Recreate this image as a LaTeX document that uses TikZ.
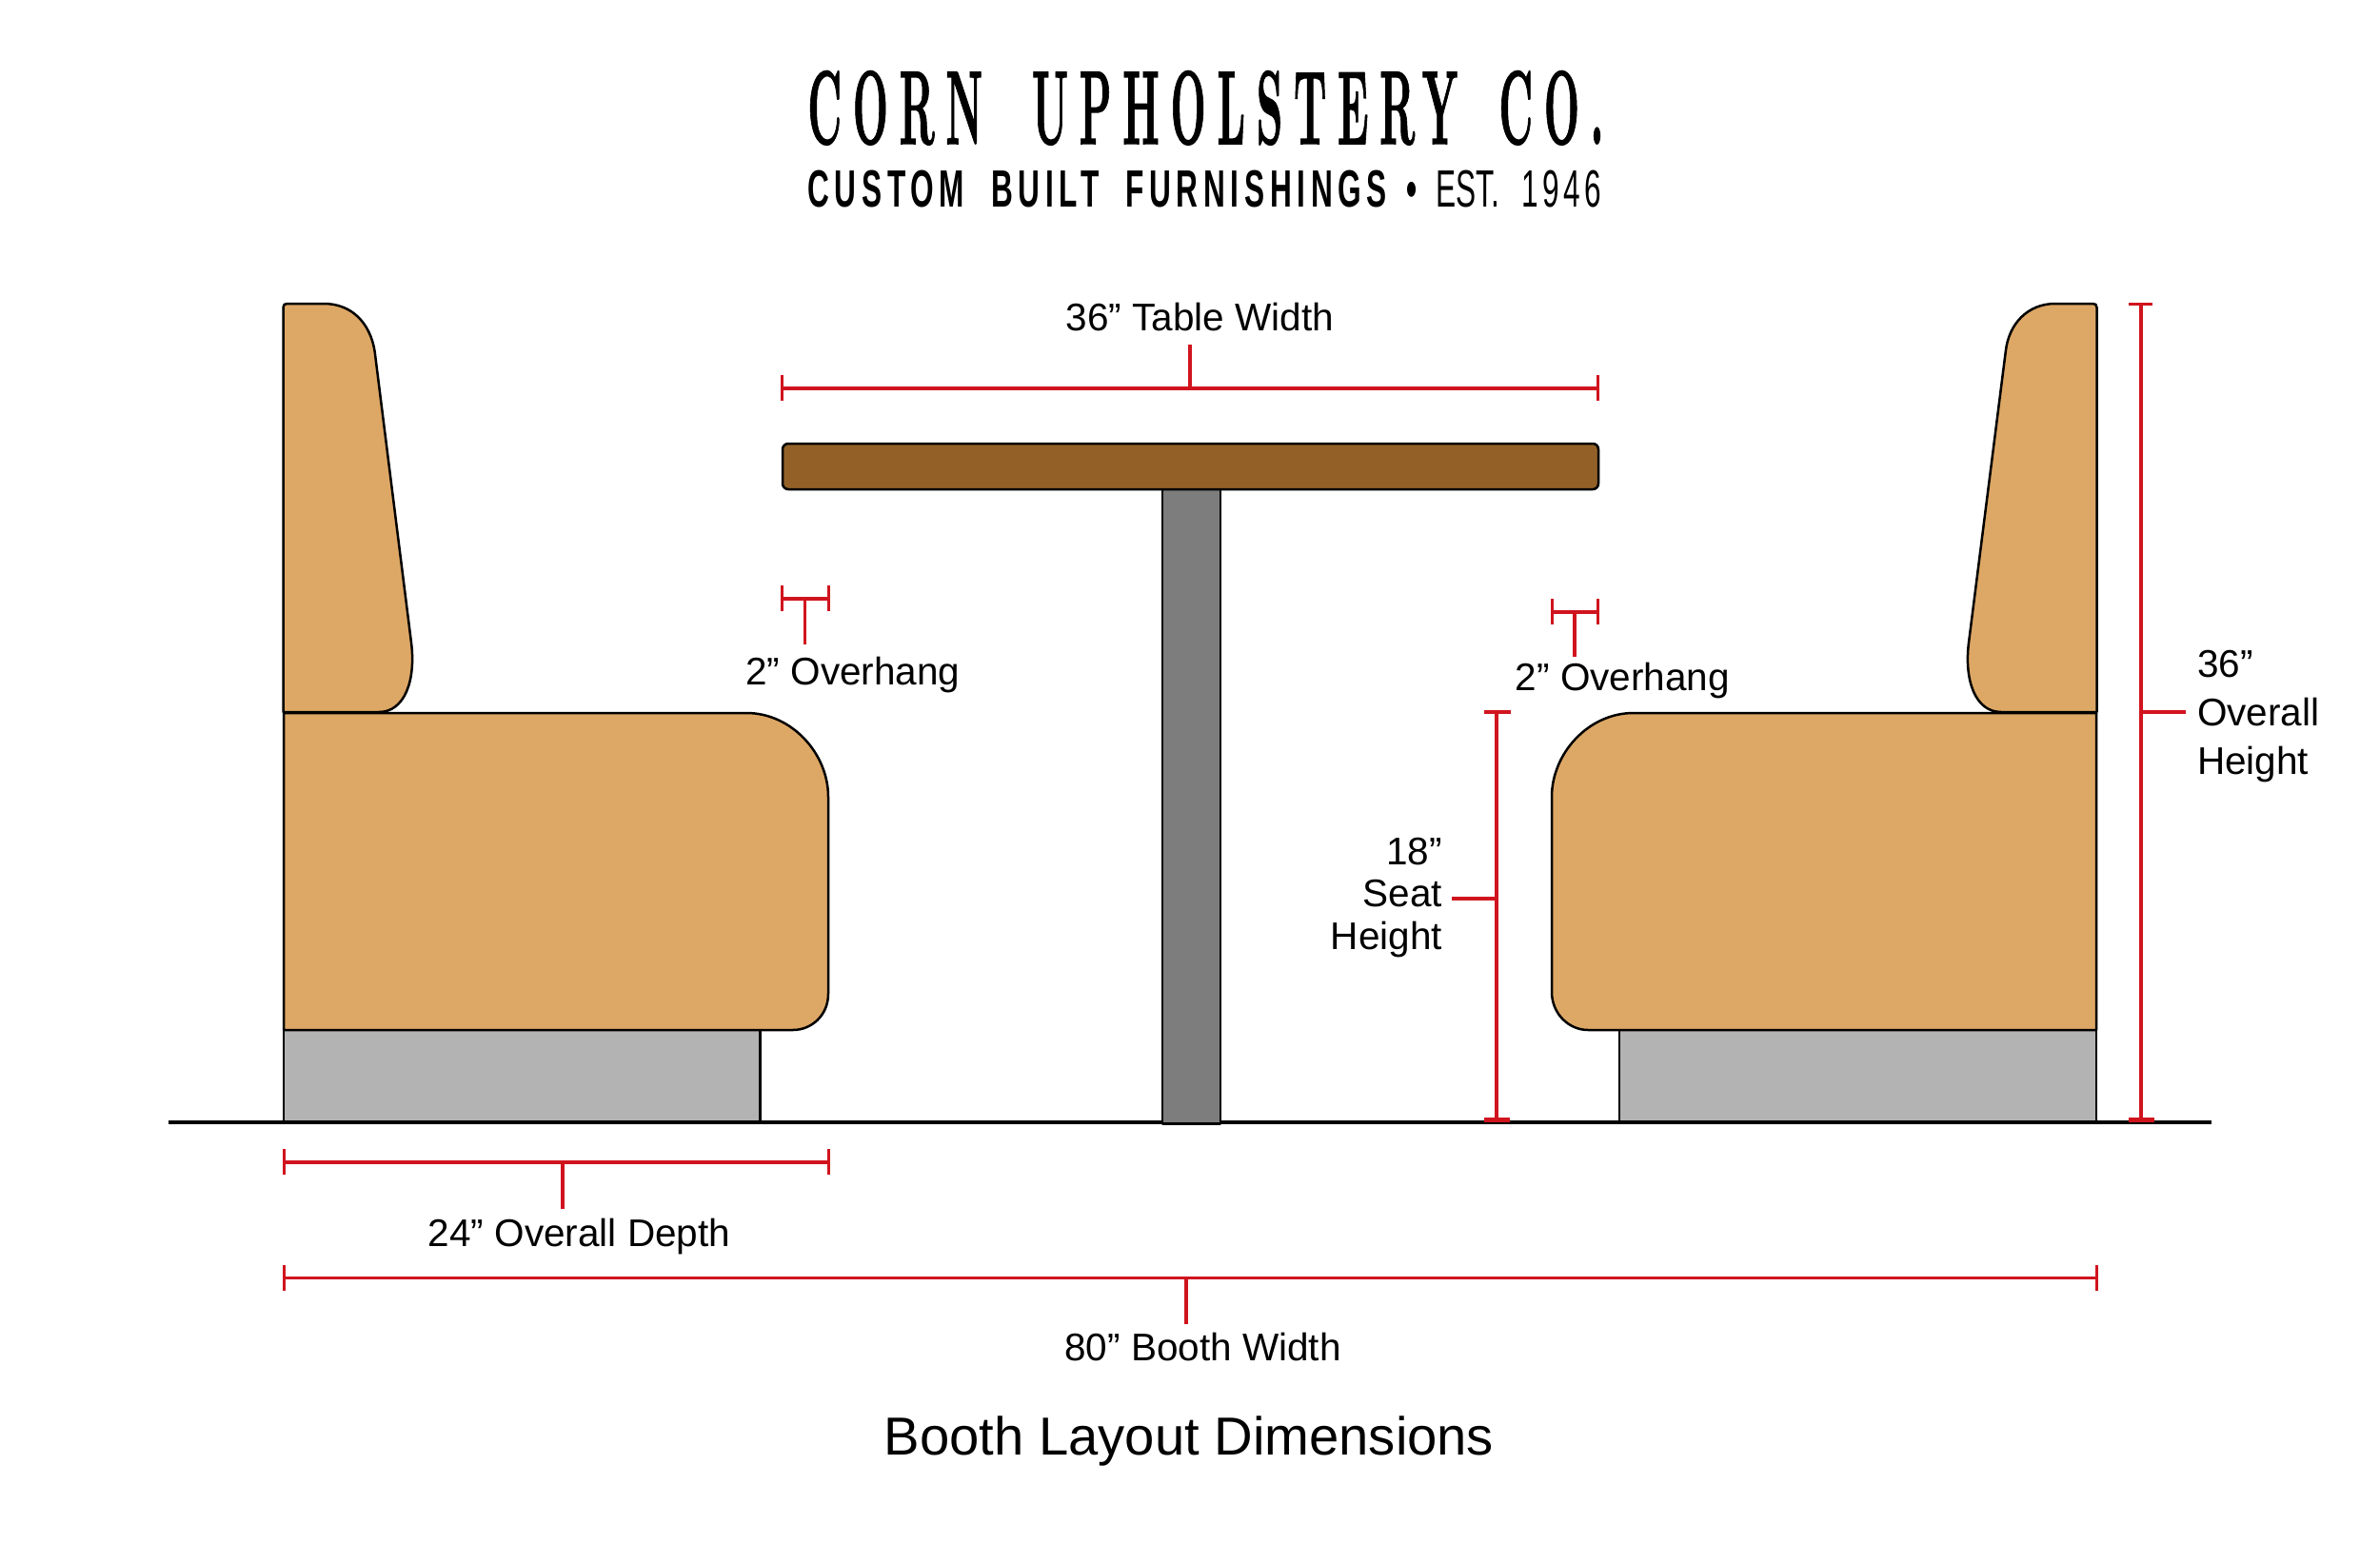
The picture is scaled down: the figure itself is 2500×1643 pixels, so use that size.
\documentclass[tikz,border=0pt]{standalone}
\usepackage{fontspec}
\usepackage{graphicx}
\setmainfont{Liberation Sans}
\newfontfamily\titlef[LetterSpace=27,FakeBold=1.3]{Latin Modern Roman}
\newfontfamily\subf[LetterSpace=18]{Liberation Sans}
\newfontfamily\subg{Liberation Sans}
\newfontfamily\subh[LetterSpace=14]{Liberation Sans}
\definecolor{seat}{RGB}{221,167,101}
\definecolor{basegrey}{RGB}{179,179,179}
\definecolor{wood}{RGB}{147,97,40}
\definecolor{post}{RGB}{125,125,125}
\definecolor{dimred}{RGB}{208,20,30}
\tikzset{
  outline/.style={draw=black,line width=1.25pt,line join=round},
  dimline/.style={draw=dimred,line width=1.9pt},
  capline/.style={draw=dimred,line width=1.5pt},
  footcap/.style={draw=dimred,line width=2.5pt},
  lbl/.style={inner sep=0pt,outer sep=0pt,font=\fontsize{20.25}{25.5}\selectfont},
}
\begin{document}
\begin{tikzpicture}[x=0.5pt,y=-0.5pt]
\useasboundingbox (0,0) rectangle (2500,1643);
% title
\node[inner sep=0pt,anchor=north west] (title) at (848,74) {\resizebox*{418pt}{39pt}{\titlef\bfseries CORN\hspace{0.55em} UPHOLSTERY\hspace{0.35em} CO.}};
\node[inner sep=0pt,anchor=north west] (subtitle) at (848,179) {\resizebox*{417pt}{19.5pt}{\subf\bfseries CUSTOM\hspace{.42em} BUILT\hspace{.42em} FURNISHINGS\hspace{.2em} •\hspace{.15em} {\subg\mdseries EST.}\hspace{.3em} {\subh\mdseries 1946}}};
% left booth
\path[outline,fill=basegrey] (298,1082) rectangle (798.5,1178);
\path[outline,fill=seat] (298,749) -- (784,749) .. controls (832,749) and (870,792) .. (870,837) -- (870,1044) .. controls (870,1067) and (852,1082) .. (833,1082) -- (298,1082) -- cycle;
\path[outline,fill=seat] (297.5,323) .. controls (297.5,320) and (299,319) .. (302,319) -- (340,319) .. controls (370,319) and (389,340) .. (393.6,369) -- (432,675) .. controls (437,715) and (425,748) .. (398,748) -- (297.5,748) -- cycle;
% right booth
\path[outline,fill=basegrey] (1701,1082) rectangle (2202,1178);
\path[outline,fill=seat] (2202,749) -- (1716,749) .. controls (1668,749) and (1630,792) .. (1630,837) -- (1630,1042) .. controls (1630,1065) and (1648,1082) .. (1668,1082) -- (2202,1082) -- cycle;
\path[outline,fill=seat] (2202.5,323) .. controls (2202.5,320) and (2201,319) .. (2198,319) -- (2159,319) .. controls (2130,319) and (2110,340) .. (2106.8,369) -- (2068,675) .. controls (2063,715) and (2075,748) .. (2102,748) -- (2202.5,748) -- cycle;
% ground
\draw[line width=2pt,black] (177,1179) -- (2323,1179);
% table
\path[outline,fill=post] (1221,514) rectangle (1282,1180.5);
\path[outline,fill=wood,rounded corners=3pt] (822,466) rectangle (1679,514);
% dimension: table width
\draw[dimline] (821.5,408) -- (1678.5,408);
\draw[capline] (821.5,394) -- (821.5,421) (1678.5,394) -- (1678.5,421);
\draw[dimline] (1250,408) -- (1250,362);
\node[lbl,anchor=base] (tablew) at (1260.5,347) {36” Table Width};
% overhang left
\draw[dimline] (821.5,629) -- (870.5,629);
\draw[capline] (821.5,615) -- (821.5,642) (870.5,615) -- (870.5,642);
\draw[dimline] (845.5,629) -- (845.5,677);
\node[lbl,anchor=base] (overl) at (896,719) {2” Overhang};
% overhang right
\draw[dimline] (1630,643) -- (1678.5,643);
\draw[capline] (1630,629) -- (1630,656) (1678.5,629) -- (1678.5,656);
\draw[dimline] (1654,643) -- (1654,690);
\node[lbl,anchor=base] (overr) at (1704.5,725) {2” Overhang};
% seat height
\draw[dimline] (1572,748) -- (1572,1177);
\draw[dimline] (1559,748) -- (1587,748);
\draw[footcap] (1559,1176) -- (1586,1176);
\draw[dimline] (1572,944) -- (1525,944);
\node[inner sep=0pt,outer sep=0pt,font=\fontsize{20.25}{22.25}\selectfont,anchor=base east,align=right] (seath) at (1515,997) {18”\\Seat\\Height};
% overall height
\draw[dimline] (2249,319) -- (2249,1177);
\draw[dimline] (2236,319.5) -- (2261,319.5);
\draw[footcap] (2236,1176) -- (2263,1176);
\draw[dimline] (2249,748) -- (2296,748);
\node[lbl,anchor=base west,align=left] (overallh) at (2308,813) {36”\\Overall\\Height};
% overall depth
\draw[dimline] (298.5,1221) -- (870,1221);
\draw[capline] (298.5,1207) -- (298.5,1234) (870,1207) -- (870,1234);
\draw[dimline] (591,1221) -- (591,1270);
\node[lbl,anchor=base] (depth) at (608.5,1309) {24” Overall Depth};
% booth width
\draw[dimline] (298.5,1342.5) -- (2202,1342.5);
\draw[capline] (298.5,1329) -- (298.5,1356) (2202,1329) -- (2202,1356);
\draw[dimline] (1246,1342.5) -- (1246,1391);
\node[lbl,anchor=base] (boothw) at (1263.5,1429) {80” Booth Width};
% caption
\node[inner sep=0pt,anchor=base,font=\fontsize{28.1}{34}\selectfont] (caption) at (1249,1528) {Booth Layout Dimensions};
\end{tikzpicture}
\end{document}
